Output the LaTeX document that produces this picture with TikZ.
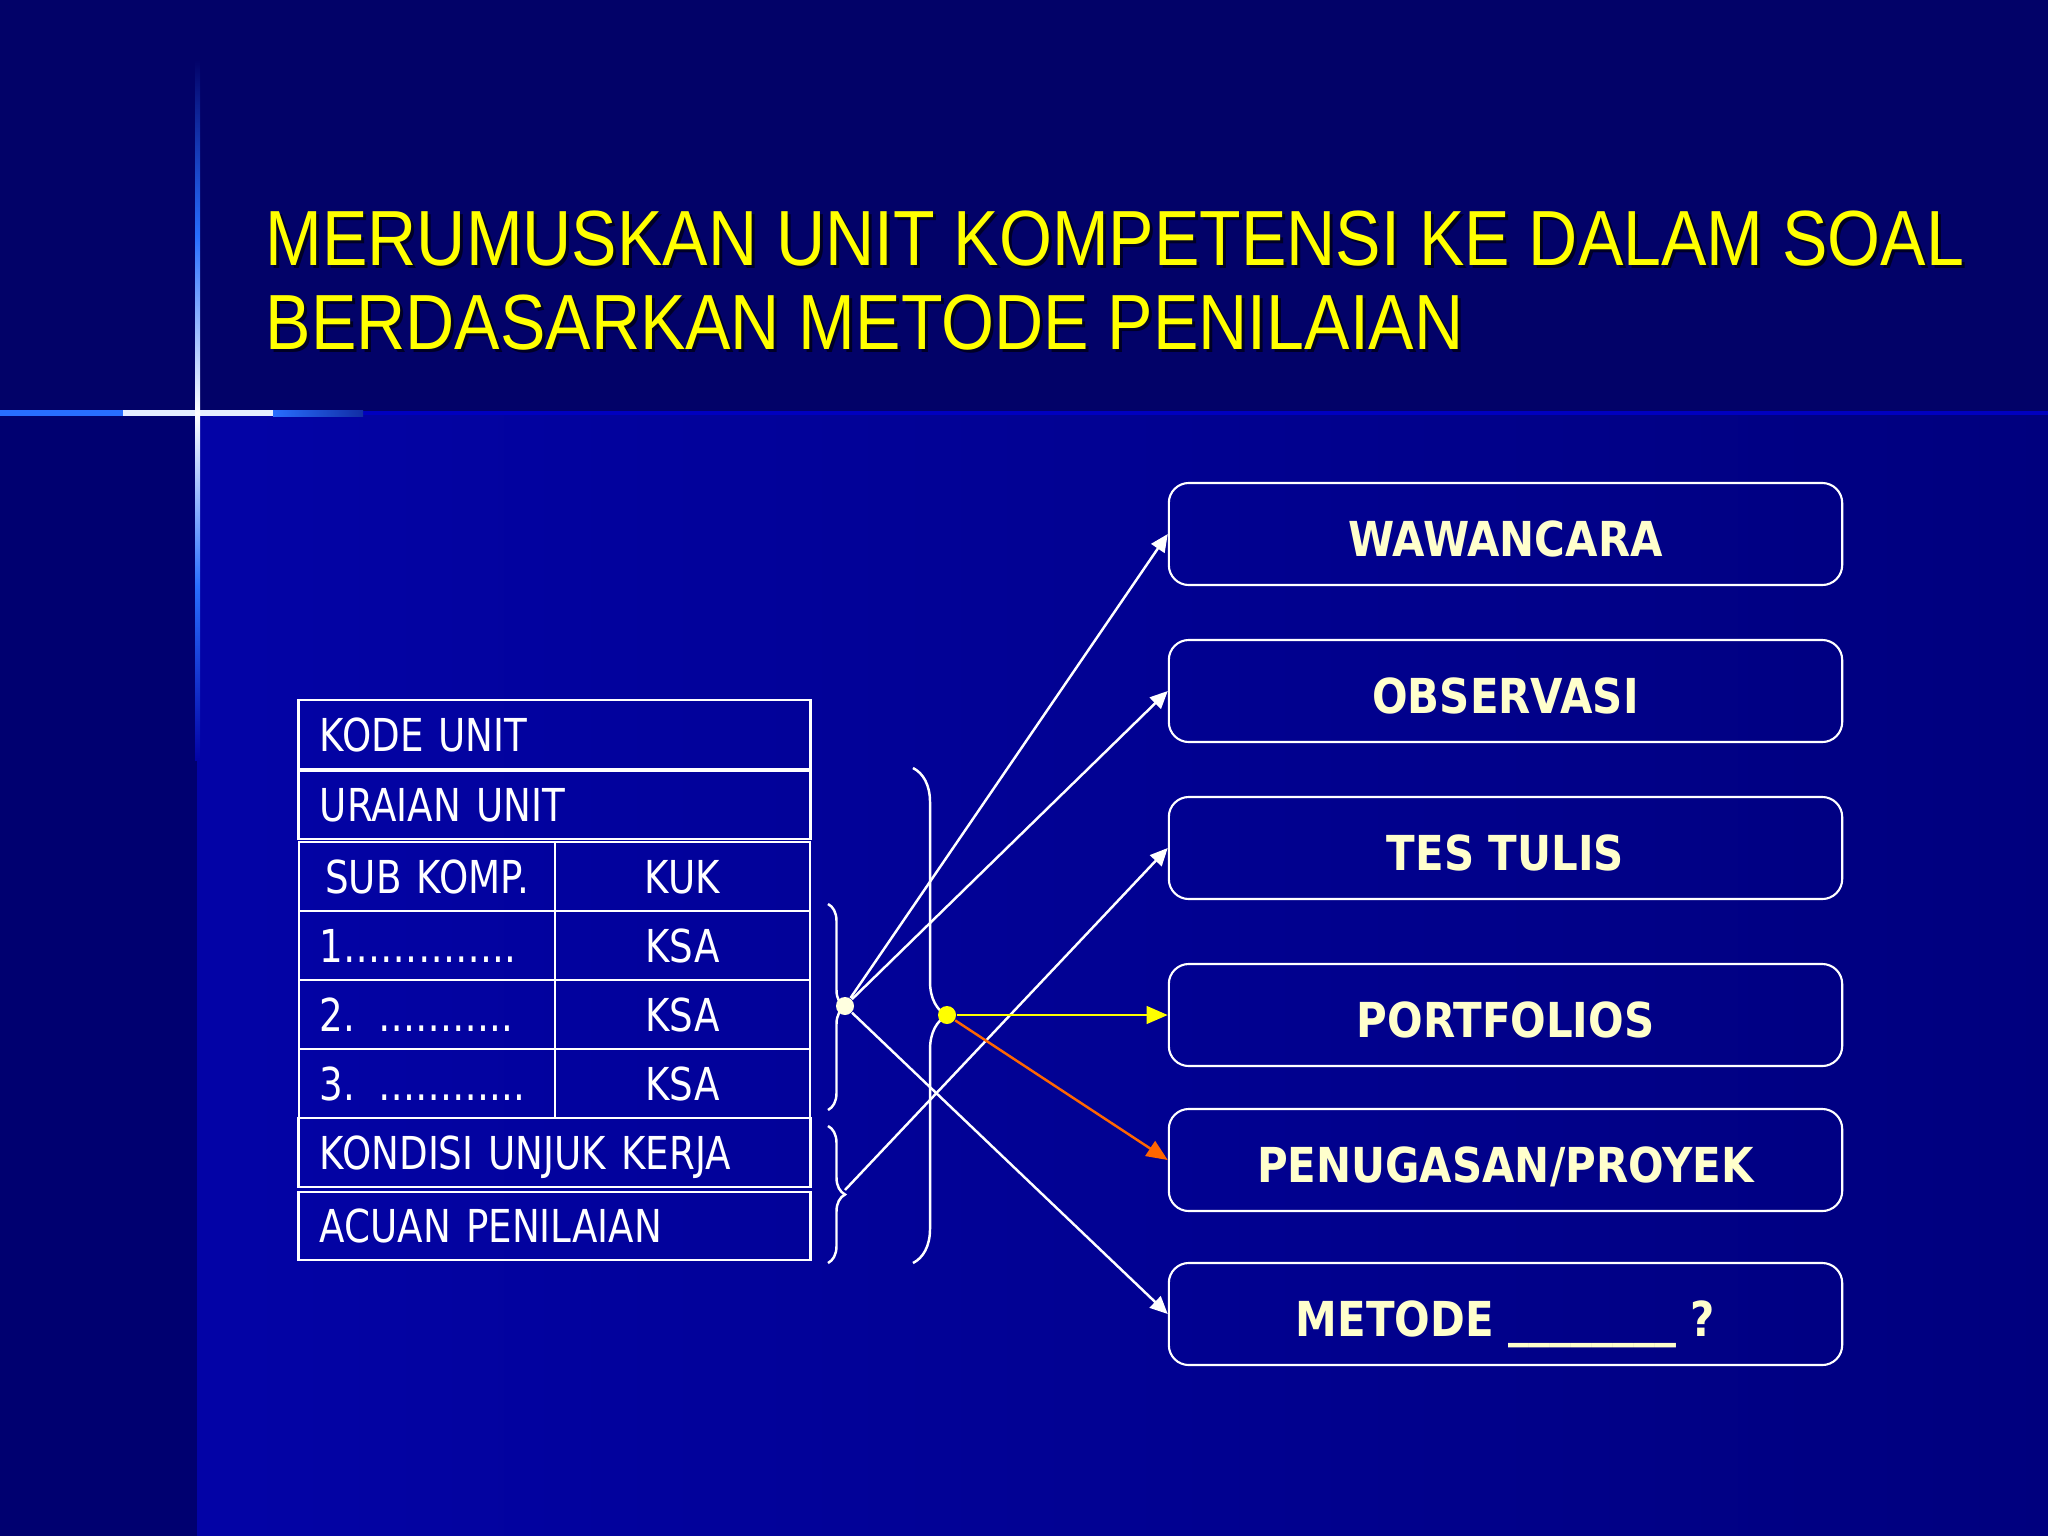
\documentclass[tikz,border=0pt]{standalone}
\usepackage{fontspec}
\setmainfont{DejaVu Sans}
\newfontfamily\titlefont[FakeStretch=0.87]{Liberation Sans}
\newfontfamily\cellfont[FakeStretch=0.82]{DejaVu Sans}
\newfontfamily\methodfont[FakeStretch=0.87]{DejaVu Sans}
\usetikzlibrary{arrows.meta,decorations.pathreplacing,calc}
\definecolor{topnavy}{RGB}{2,2,104}
\definecolor{sidenavy}{RGB}{0,0,112}
\definecolor{mainblue}{RGB}{3,3,166}
\definecolor{mainblueright}{RGB}{0,0,126}
\definecolor{glowblue}{RGB}{40,110,255}
\definecolor{titleyellow}{RGB}{255,255,0}
\definecolor{cream}{RGB}{255,255,204}
\definecolor{arroworange}{RGB}{255,102,0}
\tikzstyle{title line}=[anchor=base west, inner sep=0pt, font=\titlefont\fontsize{22.25}{24}\selectfont]
\tikzstyle{cell}=[draw=white, line width=0.8pt, text=white, inner xsep=0.21cm, inner ysep=0pt, minimum height=0.69cm, text height=0.33cm, text depth=0cm, font=\cellfont\fontsize{12.9}{14}\selectfont]
\tikzstyle{row cell}=[cell, text width=4.69cm, align=left]
\tikzstyle{sub cell}=[cell, text width=2.14cm, align=left]
\tikzstyle{kuk cell}=[cell, text width=2.13cm, align=center]
\tikzstyle{method}=[draw=white, line width=0.6pt, rounded corners=0.2cm, minimum width=6.73cm, minimum height=1.02cm, text height=0.45cm, text depth=0cm, text=cream, font=\methodfont\bfseries\fontsize{13.7}{15}\selectfont]
\tikzstyle{link}=[-{Triangle[length=5pt,width=4.5pt]}, white, line width=0.7pt]
\tikzstyle{brace}=[white, line width=0.7pt, decorate, decoration={brace, amplitude=0.17cm}]
\tikzstyle{hub}=[circle, inner sep=0pt, minimum size=0.18cm]

\begin{document}
\begin{tikzpicture}[x=0.01cm, y=-0.01cm]
\useasboundingbox (0,0) rectangle (2048,1536);

	% Background
    \fill[topnavy] (0,0) rectangle (2048,413);
    \shade[left color=mainblue, right color=mainblueright] (197,413) rectangle (2048,1536);
    \fill[sidenavy] (0,413) rectangle (197,1536);
    \draw[line width=1pt, blue!75!black] (363,413) -- (2048,413);
    \fill[glowblue] (0,410) rectangle (273,416);
    \shade[left color=glowblue, right color=glowblue!40!topnavy] (273,410) rectangle (363,416);
    \fill[white!88!glowblue] (123,410) rectangle (273,416);
    \shade[top color=topnavy, bottom color=white, middle color=glowblue] (195,60) rectangle (200,413);
    \shade[top color=white, bottom color=mainblue, middle color=glowblue] (195,413) rectangle (200,760);

	% Title
    \foreach \txt/\y [count=\i] in {MERUMUSKAN UNIT KOMPETENSI KE DALAM SOAL/265, BERDASARKAN METODE PENILAIAN/349}
    {
        \node[title line, text=black!85!blue] (shadow-\i) at (268,\y+3) {\txt};
        \node[title line, text=titleyellow] (title-\i) at (265,\y) {\txt};
    }

	% Unit table
    \node[row cell] (kode) at (554.5,734.5) {KODE UNIT};
    \node[row cell, minimum height=0.68cm] (uraian) at (554.5,805) {URAIAN UNIT};
    \node[sub cell, align=center] (sub-0) at (427,876.5) {SUB KOMP.};
    \node[kuk cell] (kuk-0) at (682.5,876.5) {KUK};
    \node[sub cell] (sub-1) at (427,945.5) {1…………..};
    \node[sub cell] (sub-2) at (427,1014.5) {2. ………..};
    \node[sub cell] (sub-3) at (427,1083.5) {3. ………...};
    \foreach \i/\y in {1/945.5, 2/1014.5, 3/1083.5}
        \node[kuk cell] (kuk-\i) at (682.5,\y) {KSA};
    \node[row cell] (kondisi) at (554.5,1152.5) {KONDISI UNJUK KERJA};
    \node[row cell, minimum height=0.68cm] (acuan) at (554.5,1226) {ACUAN PENILAIAN};

	% Braces
    \draw[brace] (828,904) -- (828,1110);
    \draw[brace] (828,1126) -- (828,1263);
    \draw[brace, decoration={amplitude=0.34cm}] (913,768) -- (913,1263);
    \coordinate (kondisi-tip) at (845,1190);

	% Methods
    \node[method] (wawancara) at (1505.5,534) {WAWANCARA};
    \node[method] (observasi) at (1505.5,691) {OBSERVASI};
    \node[method] (tes) at (1505.5,848) {TES TULIS};
    \node[method] (portfolios) at (1505.5,1015) {PORTFOLIOS};
    \node[method] (penugasan) at (1505.5,1160) {PENUGASAN/PROYEK};
    \node[method] (metode) at (1505.5,1314) {METODE \_\_\_\_\_\_\_\_ ?};

	% Connectors
    \node[hub, fill=cream!60!white] (sub-hub) at (845,1006) {};
    \node[hub, fill=titleyellow] (all-hub) at (947,1015) {};
    \foreach \dest in {wawancara,observasi,metode}
        \draw[link] (sub-hub) -- (\dest.west);
    \draw[link] (kondisi-tip) -- (tes.west);
    \draw[link, titleyellow, -{Triangle[length=6pt,width=5pt]}] (all-hub) -- (portfolios.west);
    \draw[link, arroworange, -{Triangle[length=6pt,width=5pt]}] (all-hub) -- (penugasan.west);

\end{tikzpicture}
\end{document}
